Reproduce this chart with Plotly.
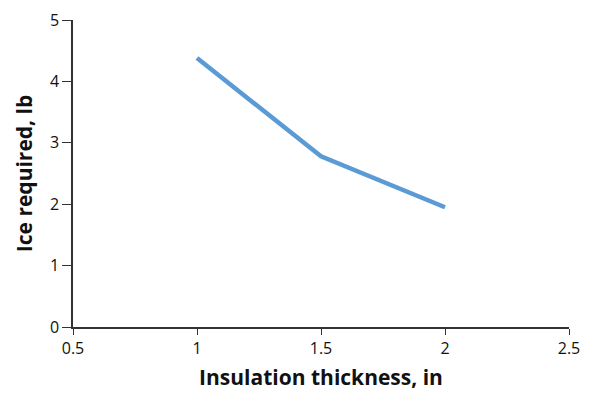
import plotly.graph_objects as go

thickness = [1, 1.5, 2]
ice = [4.38, 2.78, 1.95]

FONT = "Open Sans, sans-serif"
fig = go.Figure()
fig.add_trace(go.Scatter(x=thickness, y=ice, mode="lines",
                         line=dict(color="#5b9bd5", width=4.5)))
axis_common = dict(showline=True, linecolor="#333333", linewidth=1.5,
                   ticks="outside", tickwidth=1.2, tickcolor="#333333",
                   showgrid=False, zeroline=False, automargin=False,
                   tickfont=dict(family=FONT, size=16, color="#111111"))
fig.update_xaxes(range=[0.5, 2.5], tickvals=[0.5, 1, 1.5, 2, 2.5],
                 ticktext=["0.5", "1", "1.5", "2", "2.5"], ticklen=6,
                 title=dict(text="<b>Insulation thickness, in</b>", standoff=12,
                            font=dict(family=FONT, size=21, color="#111111")),
                 **axis_common)
fig.update_yaxes(range=[0, 5], tickvals=[0, 1, 2, 3, 4, 5], ticklen=9,
                 title=dict(text="<b>Ice required, lb</b>", standoff=12,
                            font=dict(family=FONT, size=21, color="#111111")),
                 **axis_common)
# page body has an 8px margin, so the figure is shrunk by 8px to fit the 600x397 window
fig.update_layout(width=592, height=389, margin=dict(l=65, r=31, t=12, b=70),
                  plot_bgcolor="white", paper_bgcolor="white", showlegend=False)
fig.write_html("out.html")
